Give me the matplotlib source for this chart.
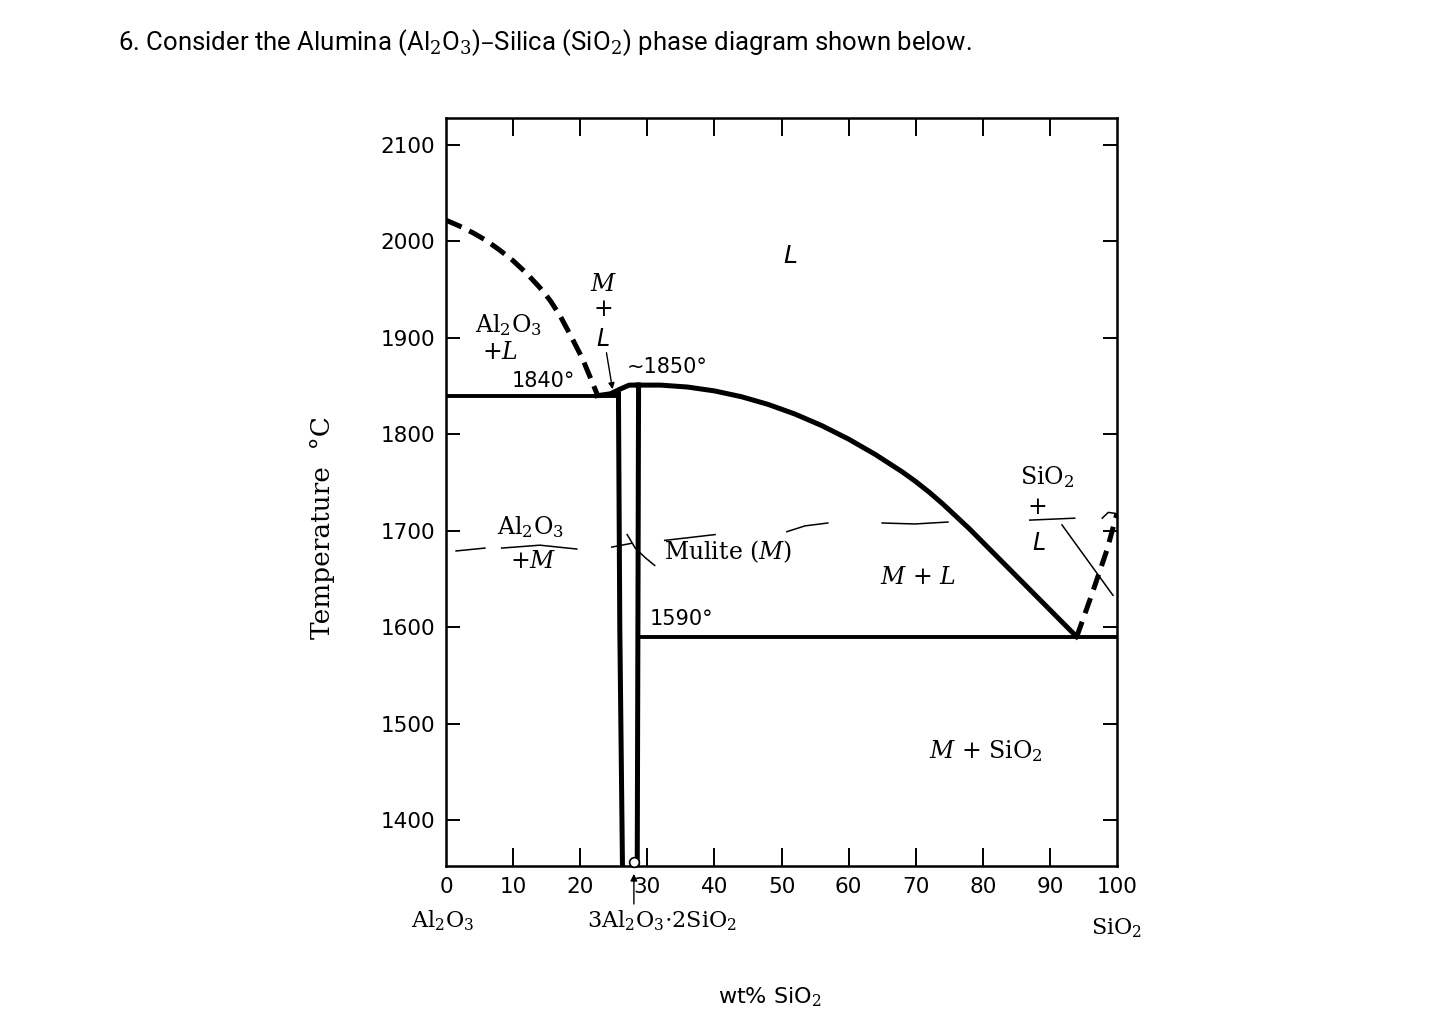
import matplotlib
matplotlib.use("Agg")
import matplotlib.pyplot as plt

plt.rcParams['mathtext.fontset'] = 'dejavuserif'

W, H = 1445, 1011

# ---------------- data ----------------
x_ticks = [0, 10, 20, 30, 40, 50, 60, 70, 80, 90, 100]
y_ticks = [1400, 1500, 1600, 1700, 1800, 1900, 2000, 2100]

# Al2O3 liquidus (dashed)
al_liq_x = [0.0, 2.0, 4.0, 6.0, 8.0, 10.0, 12.0, 14.0, 15.5, 17.0, 18.9, 20.3, 21.5, 22.5]
al_liq_T = [2022, 2016, 2009, 2001, 1991, 1980, 1967, 1952, 1939, 1923, 1898, 1879, 1859, 1842]

# eutectic at 1840
eut1_x = [0.0, 25.8]
eut1_T = [1840, 1840]

# small M + L liquidus up to congruent melting
ml_liq_x = [22.5, 24.5, 26.0, 27.3, 28.6]
ml_liq_T = [1840, 1842, 1847, 1851, 1851]

# mullite field boundaries
mul_left_x = [26.3, 25.9, 25.7]
mul_left_T = [1352, 1600, 1842]
mul_right_x = [28.5, 28.6, 28.7]
mul_right_T = [1352, 1600, 1851]

# main liquidus mullite -> SiO2 eutectic
liq_x = [28.6, 32.0, 36.0, 40.0, 44.0, 48.0, 52.0, 56.0, 60.0, 64.0, 66.0,
         68.0, 70.0, 72.0, 74.0, 76.0, 78.0, 80.0, 84.0, 88.0, 91.0, 94.0]
liq_T = [1851, 1851, 1849, 1845, 1839, 1831, 1821, 1809, 1795, 1779, 1770,
         1761, 1751, 1740, 1728, 1715, 1702, 1688, 1660, 1632, 1611, 1590]

# eutectic at 1590
eut2_x = [28.6, 100.0]
eut2_T = [1590, 1590]

# SiO2 liquidus (dashed)
si_liq_x = [94.0, 96.3, 98.5, 100.0]
si_liq_T = [1590, 1635, 1680, 1718]

# hand-drawn strokes over the scan
strokes = [
    ([1.5, 5.8], [1679, 1682]),
    ([8.3, 14.0, 19.5], [1682, 1685, 1681]),
    ([24.7, 27.7], [1683, 1687]),
    ([27.0, 28.2, 29.7, 31.1], [1696, 1682, 1672, 1664]),
    ([32.6, 36.4, 40.1], [1690, 1693, 1696]),
    ([50.8, 53.5, 56.9], [1699, 1705, 1708]),
    ([65.0, 69.9, 74.8], [1708, 1707, 1709]),
    ([87.0, 93.7], [1711, 1713]),
    ([91.8, 99.4], [1706, 1633]),
    ([97.8, 98.7, 99.7], [1713, 1719, 1718]),
]

# ---------------- figure ----------------
fig = plt.figure(figsize=(W / 100, H / 100), dpi=100)
ax_l, ax_r, ax_t, ax_b = 446, 1117, 118, 866
ax = fig.add_axes([ax_l / W, 1 - ax_b / H, (ax_r - ax_l) / W, (ax_b - ax_t) / H])
ax.set_xlim(0, 100)
ax.set_ylim(1352.3, 2128)

def fx(px):
    return px / W

def fy(py):
    return 1 - py / H

for s in ax.spines.values():
    s.set_linewidth(1.8)

ax.set_xticks(x_ticks)
ax.set_yticks(y_ticks)
ax.set_xticklabels([str(v) for v in x_ticks])
ax.set_yticklabels([str(v) for v in y_ticks])
ax.tick_params(axis='x', direction='in', length=13, width=1.4, top=True,
               labelsize=15.5, pad=8)
ax.tick_params(axis='y', direction='in', length=10, width=1.4, right=True,
               labelsize=15.5, pad=8)
xt = ax.xaxis.get_major_ticks()
for t in (xt[0], xt[-1]):
    t.tick1line.set_visible(False)
    t.tick2line.set_visible(False)

lw = 3.6
ax.plot(al_liq_x, al_liq_T, color='black', lw=lw, dashes=(3.4, 1.7),
        solid_capstyle='butt')
ax.plot(eut1_x, eut1_T, color='black', lw=2.8)
ax.plot(ml_liq_x, ml_liq_T, color='black', lw=lw)
ax.plot(mul_left_x, mul_left_T, color='black', lw=lw)
ax.plot(mul_right_x, mul_right_T, color='black', lw=lw)
ax.plot(liq_x, liq_T, color='black', lw=lw, solid_joinstyle='round')
ax.plot(eut2_x, eut2_T, color='black', lw=2.8)
ax.plot(si_liq_x, si_liq_T, color='black', lw=lw, dashes=(3.2, 1.8))

for sx, sy in strokes:
    ax.plot(sx, sy, color='black', lw=1.1)

# composition marker at mullite
ax.plot([28.0], [1356], marker='o', ms=7, mfc='white', mec='black', mew=1.2,
        clip_on=False, zorder=5)
ax.annotate('', xy=(28.0, 1347), xytext=(28.0, 1310),
            arrowprops=dict(arrowstyle='-|>', color='black', lw=1.0,
                            mutation_scale=10),
            annotation_clip=False)

serif = 'DejaVu Serif'
sans = 'DejaVu Sans'

def ftext(px, py, s, **kw):
    fig.text(fx(px), fy(py), s, ha=kw.pop('ha', 'center'),
             va=kw.pop('va', 'center'), **kw)

# region labels
ftext(508, 325, 'Al$_2$O$_3$', family=serif, fontsize=17)
ftext(500, 352, '+$\\mathit{L}$', family=sans, fontsize=17)
ftext(543, 381, '1840°', family=sans, fontsize=15)
ftext(602, 284, 'M', family=serif, style='italic', fontsize=17)
ftext(603, 310, '+', family=serif, fontsize=17)
ftext(603, 339, 'L', family=sans, style='italic', fontsize=17)
ax.annotate('', xy=((613 - ax_l) / 6.71, 2100 - (392 - 145) / 0.9643),
            xytext=((606 - ax_l) / 6.71, 2100 - (350 - 145) / 0.9643),
            arrowprops=dict(arrowstyle='-|>', color='black', lw=1.0,
                            mutation_scale=9))
ftext(667, 367, '~1850°', family=sans, fontsize=15)
ftext(790, 256, 'L', family=sans, style='italic', fontsize=18)
ftext(530, 527, 'Al$_2$O$_3$', family=serif, fontsize=17)
ftext(533, 562, '+$\\mathit{M}$', family=serif, fontsize=17)
ftext(728, 552, 'Mulite ($\\mathit{M}$)', family=serif, fontsize=17)
ftext(682, 619, '1590°', family=sans, fontsize=15)
ftext(918, 577, '$\\mathit{M}$ + $\\mathit{L}$', family=serif, fontsize=17)
ftext(1047, 477, 'SiO$_2$', family=serif, fontsize=17)
ftext(1037, 508, '+', family=serif, fontsize=17)
ftext(1039, 543, 'L', family=sans, style='italic', fontsize=17)
ftext(986, 751, '$\\mathit{M}$ + SiO$_2$', family=serif, fontsize=17)

# axis extras
ftext(443, 921, 'Al$_2$O$_3$', family=serif, fontsize=16)
ftext(662, 921, '3Al$_2$O$_3$$\\cdot$2SiO$_2$', family=serif, fontsize=16)
ftext(1117, 928, 'SiO$_2$', family=serif, fontsize=16)
ftext(770, 1009, 'wt% SiO$_2$', family=sans, fontsize=16, va='bottom')
ftext(322, 528, 'Temperature  °C', family=serif, fontsize=19, rotation=90)

# title
ftext(118, 43, '6. Consider the Alumina (Al$_2$O$_3$)–Silica (SiO$_2$) phase diagram shown below.',
      family='Roboto', fontsize=18.5, ha='left')

fig.savefig('out.png', dpi=100)
